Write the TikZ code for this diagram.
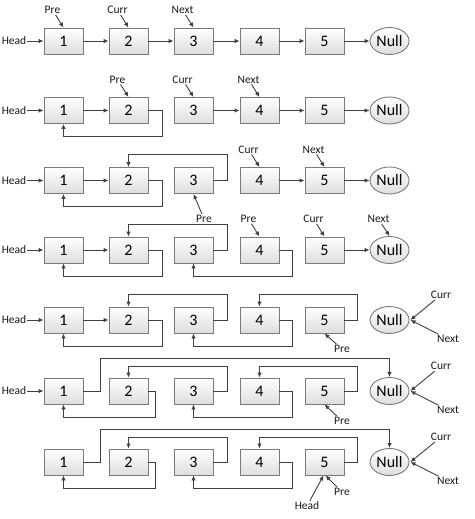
\documentclass[tikz,border=0pt]{standalone}
\usepackage{fontspec}
\setmainfont{Carlito}
\usetikzlibrary{arrows.meta,shapes.geometric}
\definecolor{linec}{HTML}{404040}
\definecolor{boxc}{HTML}{7A7A7A}
\tikzset{
  box/.style={draw=boxc, line width=0.9pt, top color=white, bottom color=black!13,
    minimum width=39pt, minimum height=26pt, inner sep=0pt, font=\fontsize{16}{16}\selectfont},
  nullnode/.style={ellipse, draw=boxc, line width=0.9pt, top color=white, bottom color=black!13,
    minimum width=39pt, minimum height=27pt, inner sep=0pt, font=\fontsize{16}{16}\selectfont},
  lbl/.style={inner sep=1pt, font=\fontsize{11.5}{11.5}\selectfont, text=black!90},
  arr/.style={draw=linec, line width=0.9pt, -{Latex[length=5pt,width=4.5pt]}},
}
\begin{document}
\begin{tikzpicture}[x=1pt,y=-1pt]
\useasboundingbox (0,0) rectangle (474,519);
\foreach \r/\y in {1/41,2/110.5,3/180.5,4/250,5/320,6/391,7/462}{
  \foreach \k/\x in {1/63.5,2/128.5,3/193.5,4/259.5,5/324.5}{
    \node[box] (r\r-\k) at (\x,\y) {\k};
  }
  \node[nullnode] (r\r-N) at (389.5,\y) {Null};
}
% Head labels on the left (rows 1-6)
\foreach \r/\y in {1/41,2/110.5,3/180.5,4/250,5/320,6/391}{
  \node[lbl] (h\r) at (14,\y) {Head};
  \draw[arr] (h\r) -- (r\r-1);
}
% ---------- Row 1
\draw[arr] (r1-1) -- (r1-2);
\draw[arr] (r1-2) -- (r1-3);
\draw[arr] (r1-3) -- (r1-4);
\draw[arr] (r1-4) -- (r1-5);
\draw[arr] (r1-5) -- (r1-N);
\node[lbl] (p1) at (52.5,10) {Pre};
\node[lbl] (c1) at (117.5,10) {Curr};
\node[lbl] (x1) at (182.5,10) {Next};
\draw[arr] (p1) -- (r1-1.north);
\draw[arr] (c1) -- (r1-2.north);
\draw[arr] (x1) -- (r1-3.north);
% ---------- Row 2
\draw[arr] (r2-1) -- (r2-2);
\draw[arr] (r2-2.east) -- ++(14,0) -- ++(0,26) -| (r2-1.south);
\draw[arr] (r2-3) -- (r2-4);
\draw[arr] (r2-4) -- (r2-5);
\draw[arr] (r2-5) -- (r2-N);
\node[lbl] (p2) at (117.5,79.5) {Pre};
\node[lbl] (c2) at (182.5,79.5) {Curr};
\node[lbl] (x2) at (248.5,79.5) {Next};
\draw[arr] (p2) -- (r2-2.north);
\draw[arr] (c2) -- (r2-3.north);
\draw[arr] (x2) -- (r2-4.north);
% ---------- Row 3
\draw[arr] (r3-1) -- (r3-2);
\draw[arr] (r3-2.east) -- ++(14,0) -- ++(0,26) -| (r3-1.south);
\draw[arr] (r3-3.east) -- ++(14,0) -- ++(0,-26) -| (r3-2.north);
\draw[arr] (r3-4) -- (r3-5);
\draw[arr] (r3-5) -- (r3-N);
\node[lbl] (p3) at (204,219) {Pre};
\node[lbl] (c3) at (248.5,149.5) {Curr};
\node[lbl] (x3) at (313.5,149.5) {Next};
\draw[arr] (p3) -- (r3-3.south);
\draw[arr] (c3) -- (r3-4.north);
\draw[arr] (x3) -- (r3-5.north);
% ---------- Row 4
\draw[arr] (r4-1) -- (r4-2);
\draw[arr] (r4-2.east) -- ++(14,0) -- ++(0,26) -| (r4-1.south);
\draw[arr] (r4-3.east) -- ++(14,0) -- ++(0,-26) -| (r4-2.north);
\draw[arr] (r4-4.east) -- ++(13,0) -- ++(0,26) -| (r4-3.south);
\draw[arr] (r4-5) -- (r4-N);
\node[lbl] (p4) at (248.5,219) {Pre};
\node[lbl] (c4) at (313.5,219) {Curr};
\node[lbl] (x4) at (378.5,219) {Next};
\draw[arr] (p4) -- (r4-4.north);
\draw[arr] (c4) -- (r4-5.north);
\draw[arr] (x4) -- (r4-N.north);
% ---------- Row 5
\draw[arr] (r5-1) -- (r5-2);
\draw[arr] (r5-2.east) -- ++(14,0) -- ++(0,26) -| (r5-1.south);
\draw[arr] (r5-3.east) -- ++(14,0) -- ++(0,-26) -| (r5-2.north);
\draw[arr] (r5-4.east) -- ++(13,0) -- ++(0,26) -| (r5-3.south);
\draw[arr] (r5-5.east) -- ++(13,0) -- ++(0,-26) -| (r5-4.north);
\node[lbl] (p5) at (342,349) {Pre};
\node[lbl] (c5) at (441,295) {Curr};
\node[lbl] (x5) at (448,339) {Next};
\draw[arr] (p5) -- (r5-5.south);
\draw[arr] (c5) -- ([xshift=1pt]r5-N.east);
\draw[arr] (x5) -- ([xshift=1pt]r5-N.east);
% ---------- Row 6
\draw[arr] (r6-1.east) -- ++(17,0) -- ++(0,-33) -| (r6-N.north);
\draw[arr] (r6-2.east) -- ++(7,0) -- ++(0,26) -| (r6-1.south);
\draw[arr] (r6-3.east) -- ++(14,0) -- ++(0,-25) -| (r6-2.north);
\draw[arr] (r6-4.east) -- ++(13,0) -- ++(0,26) -| (r6-3.south);
\draw[arr] (r6-5.east) -- ++(13,0) -- ++(0,-25) -| (r6-4.north);
\node[lbl] (p6) at (342,421) {Pre};
\node[lbl] (c6) at (441,366) {Curr};
\node[lbl] (x6) at (448,410) {Next};
\draw[arr] (p6) -- (r6-5.south);
\draw[arr] (c6) -- ([xshift=1pt]r6-N.east);
\draw[arr] (x6) -- ([xshift=1pt]r6-N.east);
% ---------- Row 7
\draw[arr] (r7-1.east) -- ++(17,0) -- ++(0,-33) -| (r7-N.north);
\draw[arr] (r7-2.east) -- ++(7,0) -- ++(0,26) -| (r7-1.south);
\draw[arr] (r7-3.east) -- ++(14,0) -- ++(0,-25) -| (r7-2.north);
\draw[arr] (r7-4.east) -- ++(13,0) -- ++(0,26) -| (r7-3.south);
\draw[arr] (r7-5.east) -- ++(13,0) -- ++(0,-25) -| (r7-4.north);
\node[lbl] (p7) at (342,492) {Pre};
\node[lbl] (h7) at (307,506) {Head};
\node[lbl] (c7) at (441,437) {Curr};
\node[lbl] (x7) at (448,481) {Next};
\draw[arr] (p7) -- ([xshift=1pt]r7-5.south);
\draw[arr] (h7) -- ([xshift=-1pt]r7-5.south);
\draw[arr] (c7) -- ([xshift=1pt]r7-N.east);
\draw[arr] (x7) -- ([xshift=1pt]r7-N.east);
\end{tikzpicture}
\end{document}
